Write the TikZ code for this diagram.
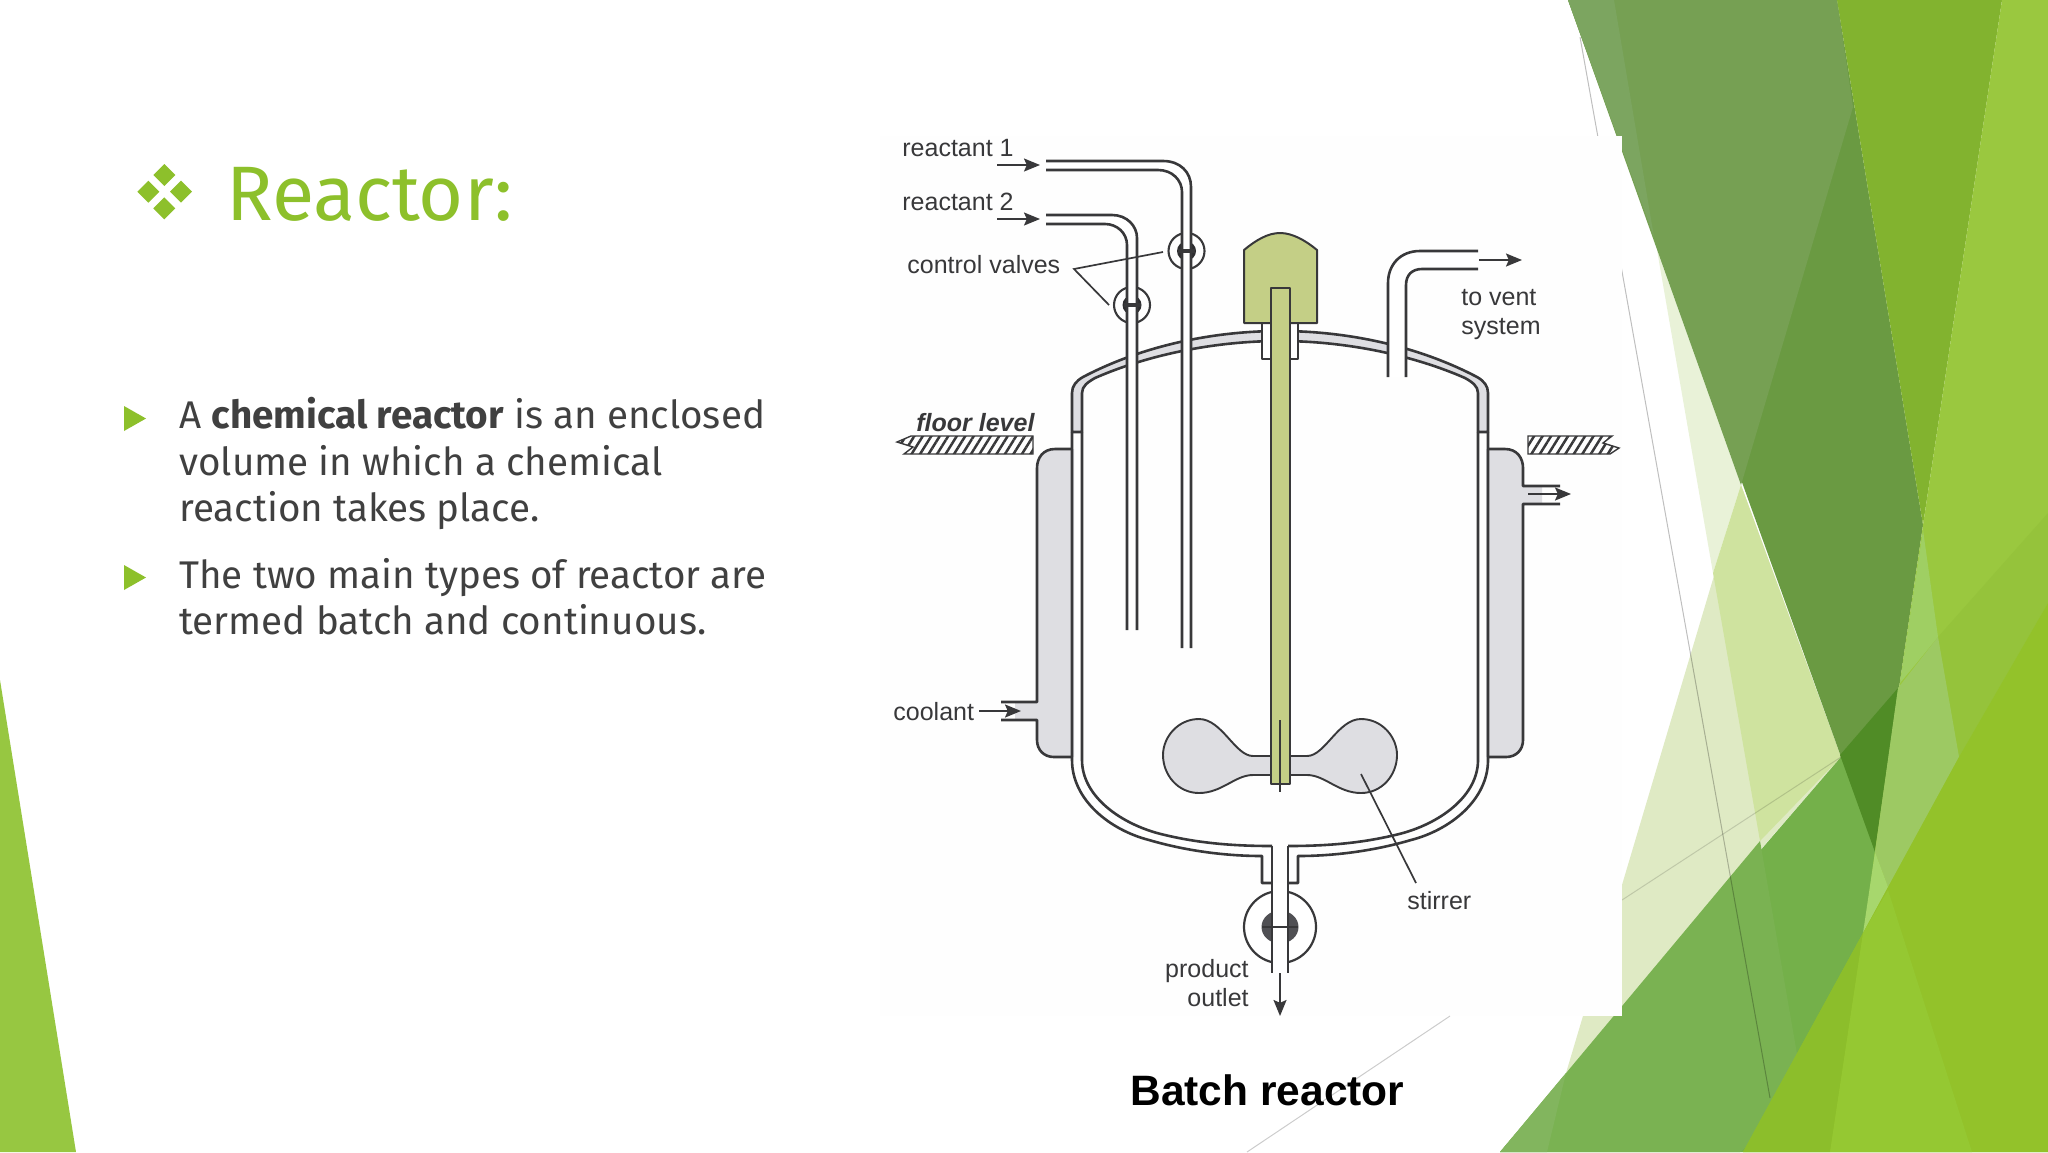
\documentclass[tikz,border=0pt]{standalone}
\usepackage{fontspec}
\usetikzlibrary{arrows.meta,patterns.meta}
\setmainfont{Liberation Sans}
\newfontfamily\slidefont{Fira Sans}
\definecolor{ink}{HTML}{38383A}
\definecolor{jacket}{HTML}{DEDEE2}
\definecolor{shaftg}{HTML}{C4CF86}
\definecolor{lime}{HTML}{8DC02B}
\definecolor{bodyink}{HTML}{404040}
\tikzset{
  wall/.style={draw=ink,line width=1.3pt,line join=round},
  thinl/.style={draw=ink,line width=.85pt},
  flow/.style={draw=ink,line width=.9pt,-{Stealth[length=8pt,width=6.5pt,inset=1.4pt]}},
  lab/.style={inner sep=0pt,anchor=base west,text=ink,font=\fontsize{12.5}{15}\selectfont},
  labr/.style={lab,anchor=base east},
  body/.style={inner sep=0pt,anchor=base west,text=bodyink,font=\slidefont\fontsize{19.3}{22}\selectfont},
  faint/.style={draw=black,opacity=.25,line width=.5pt},
  hatch/.style={draw=ink,line width=.7pt,pattern={Lines[angle=58,distance=3.6pt,line width=1.25pt]},pattern color=ink},
  pipewhite/.style={fill=white,draw=none},
}
\begin{document}
\begin{tikzpicture}[x=.5pt,y=-.5pt]
\useasboundingbox (0,0) rectangle (2048,1152);
\fill[white] (0,0) rectangle (2048,1152);
% ---------- background facets
\fill[color={rgb,255:red,151;green,199;blue,65}] (0,680) -- (76,1152) -- (0,1152) -- cycle;
\fill[color={rgb,255:red,223;green,234;blue,196}] (1741,485) -- (1566,1073) -- (1841,757) -- cycle;
\fill[color={rgb,255:red,233;green,242;blue,216}] (1657,250) -- (1741,485) -- (1713,573) -- cycle;
\fill[color={rgb,255:red,207;green,227;blue,159}] (1741,485) -- (1841,757) -- (1760,841) -- (1713,573) -- cycle;
\fill[color={rgb,255:red,116;green,176;blue,74}] (1500,1152) -- (1841,757) -- (1900,687) -- (2048,514) -- (2048,1152) -- cycle;
\fill[color={rgb,255:red,122;green,178;blue,82}] (1500,1152) -- (1760,841) -- (1805,1100) -- (1740,1152) -- cycle;
\fill[color={rgb,255:red,130;green,181;blue,94}] (1500,1152) -- (1566,1073) -- (1547,1152) -- cycle;
\fill[color={rgb,255:red,106;green,154;blue,66}] (1568,0) -- (1837,0) -- (1923,525) -- (1875,851) -- cycle;
\fill[color={rgb,255:red,118;green,160;blue,83}] (1568,0) -- (1837,0) -- (1853,107) -- (1741,485) -- cycle;
\fill[color={rgb,255:red,124;green,165;blue,96}] (1568,0) -- (1614,0) -- (1654,237) -- cycle;
\fill[color={rgb,255:red,80;green,140;blue,38}] (1840,755) -- (1898,688) -- (1875,852) -- cycle;
\fill[color={rgb,255:red,130;green,179;blue,47}] (1837,0) -- (2002,0) -- (1923,525) -- cycle;
\fill[color={rgb,255:red,154;green,200;blue,63}] (2002,0) -- (2048,0) -- (2048,1152) -- (1864,933) -- (1875,851) -- (1923,525) -- cycle;
\fill[color={rgb,255:red,149;green,195;blue,59}] (1938,637) -- (2048,513) -- (2048,603) -- (1959,757) -- cycle;
\fill[color={rgb,255:red,159;green,207;blue,99}] (1923,530) -- (1938,637) -- (1900,683) -- cycle;
\fill[color={rgb,255:red,157;green,201;blue,99}] (1938,637) -- (1959,757) -- (1888,887) -- (1875,852) -- (1898,688) -- cycle;
\fill[color={rgb,255:red,167;green,215;blue,109}] (1875,852) -- (1888,887) -- (1863,933) -- cycle;
\fill[color={rgb,255:red,147;green,194;blue,42}] (1743,1152) -- (1863,933) -- (1959,757) -- (2048,603) -- (2048,1152) -- cycle;
\fill[color={rgb,255:red,140;green,190;blue,43}] (1743,1152) -- (1863,933) -- (1830,1152) -- cycle;
\fill[color={rgb,255:red,149;green,200;blue,50}] (1830,1152) -- (1863,933) -- (1888,890) -- (1972,1152) -- cycle;
\draw[faint] (1580,37) -- (1770,1098);
\draw[faint,opacity=.14] (1622,900) -- (1841,757);
\fill[color={rgb,255:red,254;green,254;blue,254}] (880,136) rectangle (1622,1016);
\draw[faint,opacity=.2] (1450,1016) -- (1247,1152);
% ---------- left slide text
\node[inner sep=0pt,anchor=base west,text=lime,font=\slidefont\fontsize{38.6}{44}\selectfont] (title) at (226,220) {Reactor:};
\foreach \cx/\cy in {164.3/175,148.3/191.7,181/191.7,164.3/208.3}
  \fill[lime] (\cx-11,\cy) -- (\cx,\cy-11) -- (\cx+11,\cy) -- (\cx,\cy+11) -- cycle;
\fill[lime] (124,406) -- (146,418.5) -- (124,431) -- cycle;
\fill[lime] (124,565) -- (146,577.5) -- (124,590) -- cycle;
\node[body] (t1) at (179,428) {A \textbf{chemical reactor} is an enclosed};
\node[body] (t2) at (179,475) {volume in which a chemical};
\node[body] (t3) at (179,521) {reaction takes place.};
\node[body] (t4) at (179,588) {The two main types of reactor are};
\node[body] (t5) at (179,634) {termed batch and continuous.};
% ---------- jackets
\path[fill=jacket] (1074,449) -- (1055,449) .. controls (1043,449) and (1037,458) .. (1037,468) -- (1037,702) -- (1015,702) -- (1015,720) -- (1037,720) -- (1037,740) .. controls (1037,750) and (1044,757) .. (1054,757) -- (1074,757) -- cycle;
\draw[wall] (1072,449) -- (1055,449) .. controls (1043,449) and (1037,458) .. (1037,468) -- (1037,702) -- (1001,702);
\draw[wall] (1001,720) -- (1037,720) -- (1037,740) .. controls (1037,750) and (1044,757) .. (1054,757) -- (1072,757);
\path[fill=jacket] (1486,449) -- (1505,449) .. controls (1517,449) and (1523,458) .. (1523,468) -- (1523,486) -- (1542,486) -- (1542,504) -- (1523,504) -- (1523,740) .. controls (1523,750) and (1516,757) .. (1506,757) -- (1486,757) -- cycle;
\draw[wall] (1488,449) -- (1505,449) .. controls (1517,449) and (1523,458) .. (1523,468) -- (1523,486) -- (1560,486);
\draw[wall] (1560,504) -- (1523,504) -- (1523,740) .. controls (1523,750) and (1516,757) .. (1506,757) -- (1488,757);
% ---------- vessel lid
\draw[wall,fill=jacket] (1072,432) -- (1072,393) .. controls (1072,386) and (1076,381) .. (1083,377)
 .. controls (1140,347) and (1210,331) .. (1280,331) .. controls (1350,331) and (1420,347) .. (1477,377)
 .. controls (1484,381) and (1488,386) .. (1488,393) -- (1488,432) -- (1478,432) -- (1478,393)
 .. controls (1478,386) and (1472,382) .. (1465,378) .. controls (1415,356) and (1348,341) .. (1280,341)
 .. controls (1212,341) and (1145,356) .. (1095,378) .. controls (1088,382) and (1082,386) .. (1082,393)
 -- (1082,432) -- cycle;
% ---------- vessel body
\draw[wall] (1072,432) -- (1072,760) .. controls (1072,800) and (1110,830) .. (1149,840) .. controls (1190,852) and (1230,856) .. (1262,856) -- (1262,883) -- (1272,883);
\draw[wall] (1082,432) -- (1082,760) .. controls (1082,795) and (1118,822) .. (1157,833) .. controls (1195,843) and (1232,846) .. (1272,846);
\draw[wall] (1488,432) -- (1488,760) .. controls (1488,800) and (1450,830) .. (1411,840) .. controls (1370,852) and (1330,856) .. (1298,856) -- (1298,883) -- (1288,883);
\draw[wall] (1478,432) -- (1478,760) .. controls (1478,795) and (1442,822) .. (1403,833) .. controls (1365,843) and (1328,846) .. (1288,846);
% ---------- outlet valve
\coordinate (v3) at (1280,927);
\draw[wall,line width=1.1pt,fill=white] (v3) circle[radius=36];
\fill[color={rgb,255:red,80;green,80;blue,84}] (v3) ellipse[x radius=18.5,y radius=16.5];
\fill[white] (1272,883) rectangle (1288,973);
\draw[wall] (1262,927) -- (1298,927);
\draw[wall] (1272,846) -- (1272,973);
\draw[wall] (1288,846) -- (1288,973);
% ---------- feed valves
\coordinate (v1) at (1186.5,251);
\coordinate (v2) at (1132,305);
\draw[wall,line width=1.05pt] (v1) circle[radius=18];
\draw[wall,line width=1.05pt] (v2) circle[radius=18];
\fill[color={rgb,255:red,45;green,45;blue,47}] (v1) circle[radius=9.5];
\fill[color={rgb,255:red,45;green,45;blue,47}] (v2) circle[radius=9.5];
% ---------- reactant pipes
\fill[pipewhite] (1046,161) -- (1163,161) .. controls (1180,161) and (1191,172) .. (1191,187) -- (1191,648) -- (1182,648) -- (1182,192) .. controls (1182,180) and (1172,170) .. (1158,170) -- (1046,170) -- cycle;
\draw[wall] (1046,161) -- (1163,161) .. controls (1180,161) and (1191,172) .. (1191,187) -- (1191,648);
\draw[wall] (1046,170) -- (1158,170) .. controls (1172,170) and (1182,180) .. (1182,192) -- (1182,648);
\fill[pipewhite] (1046,215) -- (1112,215) .. controls (1127,215) and (1137,226) .. (1137,238) -- (1137,630) -- (1127,630) -- (1127,245) .. controls (1127,233) and (1117,224) .. (1105,224) -- (1046,224) -- cycle;
\draw[wall] (1046,215) -- (1112,215) .. controls (1127,215) and (1137,226) .. (1137,238) -- (1137,630);
\draw[wall] (1046,224) -- (1105,224) .. controls (1117,224) and (1127,233) .. (1127,245) -- (1127,630);
\draw[wall,line width=1.6pt] (1178,251) -- (1195,251);
\draw[wall,line width=1.6pt] (1124,305) -- (1141,305);
% ---------- vent pipe
\fill[pipewhite] (1478,251) -- (1420,251) .. controls (1400,251) and (1388,265) .. (1388,283) -- (1388,377) -- (1406,377) -- (1406,285) .. controls (1406,275) and (1412,269) .. (1422,269) -- (1478,269) -- cycle;
\draw[wall] (1478,251) -- (1420,251) .. controls (1400,251) and (1388,265) .. (1388,283) -- (1388,377);
\draw[wall] (1478,269) -- (1422,269) .. controls (1412,269) and (1406,275) .. (1406,285) -- (1406,377);
% ---------- stirrer
\draw[wall,line width=.95pt,fill=jacket] (1253,756) .. controls (1235,756) and (1222,719) .. (1199,719) .. controls (1178,719) and (1163,737) .. (1163,755) .. controls (1163,775) and (1178,793) .. (1199,793) .. controls (1222,793) and (1235,775) .. (1253,775) -- (1307,775)
 .. controls (1325,775) and (1338,793) .. (1361,793) .. controls (1382,793) and (1397,775) .. (1397,755) .. controls (1397,737) and (1382,719) .. (1361,719) .. controls (1338,719) and (1325,756) .. (1307,756) -- cycle;
% ---------- collar, cap, shaft
\draw[wall,line width=1pt,fill=white] (1262,323) rectangle (1298,359);
\draw[wall,line width=1pt,fill=shaftg] (1244,323) -- (1244,250) .. controls (1256,240) and (1268,233) .. (1280,233) .. controls (1292,233) and (1305,240) .. (1317,250) -- (1317,323) -- cycle;
\draw[wall,line width=1pt,fill=shaftg] (1271,288) rectangle (1290,784);
\draw[thinl] (1280,720) -- (1280,792);
% ---------- floor
\path[hatch] (1033,436) -- (911,436) -- (897,442) -- (913,447) -- (904,454) -- (1033,454) -- cycle;
\path[hatch] (1528,436) -- (1612,436) -- (1603,443) -- (1619,448) -- (1610,454) -- (1528,454) -- cycle;
% ---------- labels
\node[lab] (r1) at (902,156) {reactant 1};
\node[lab] (r2) at (902,210) {reactant 2};
\node[lab] (cv) at (907,273) {control valves};
\node[lab,font=\fontsize{12.5}{15}\selectfont\bfseries\itshape] (fl) at (916,431) {floor level};
\node[lab] (tv) at (1461,305) {to vent};
\node[lab] (sy) at (1461,334) {system};
\node[lab] (co) at (893,720) {coolant};
\node[lab] (st) at (1407,909) {stirrer};
\node[labr] (pr) at (1249,977) {product};
\node[labr] (ou) at (1249,1006) {outlet};
\node[inner sep=0pt,anchor=base west,text=black,font=\fontsize{21.25}{25}\selectfont\bfseries] (br) at (1130,1105) {Batch reactor};
% ---------- leaders and flow arrows
\coordinate (cvj) at (1074,269);
\coordinate (a1) at (1163,252);
\coordinate (a2) at (1109,305);
\draw[thinl] (a1) -- (cvj) -- (a2);
\coordinate (s1) at (1361,774);
\coordinate (s2) at (1416,883);
\draw[thinl] (s1) -- (s2);
\coordinate (f1s) at (997,165); \coordinate (f1e) at (1040,165);
\coordinate (f2s) at (997,219); \coordinate (f2e) at (1040,219);
\coordinate (f3s) at (1479,260); \coordinate (f3e) at (1522,260);
\coordinate (f4s) at (979,711); \coordinate (f4e) at (1021,711);
\coordinate (f5s) at (1528,494); \coordinate (f5e) at (1571,494);
\coordinate (f6s) at (1280,973); \coordinate (f6e) at (1280,1016);
\foreach \p in {1,...,6} \draw[flow] (f\p s) -- (f\p e);
\end{tikzpicture}
\end{document}
